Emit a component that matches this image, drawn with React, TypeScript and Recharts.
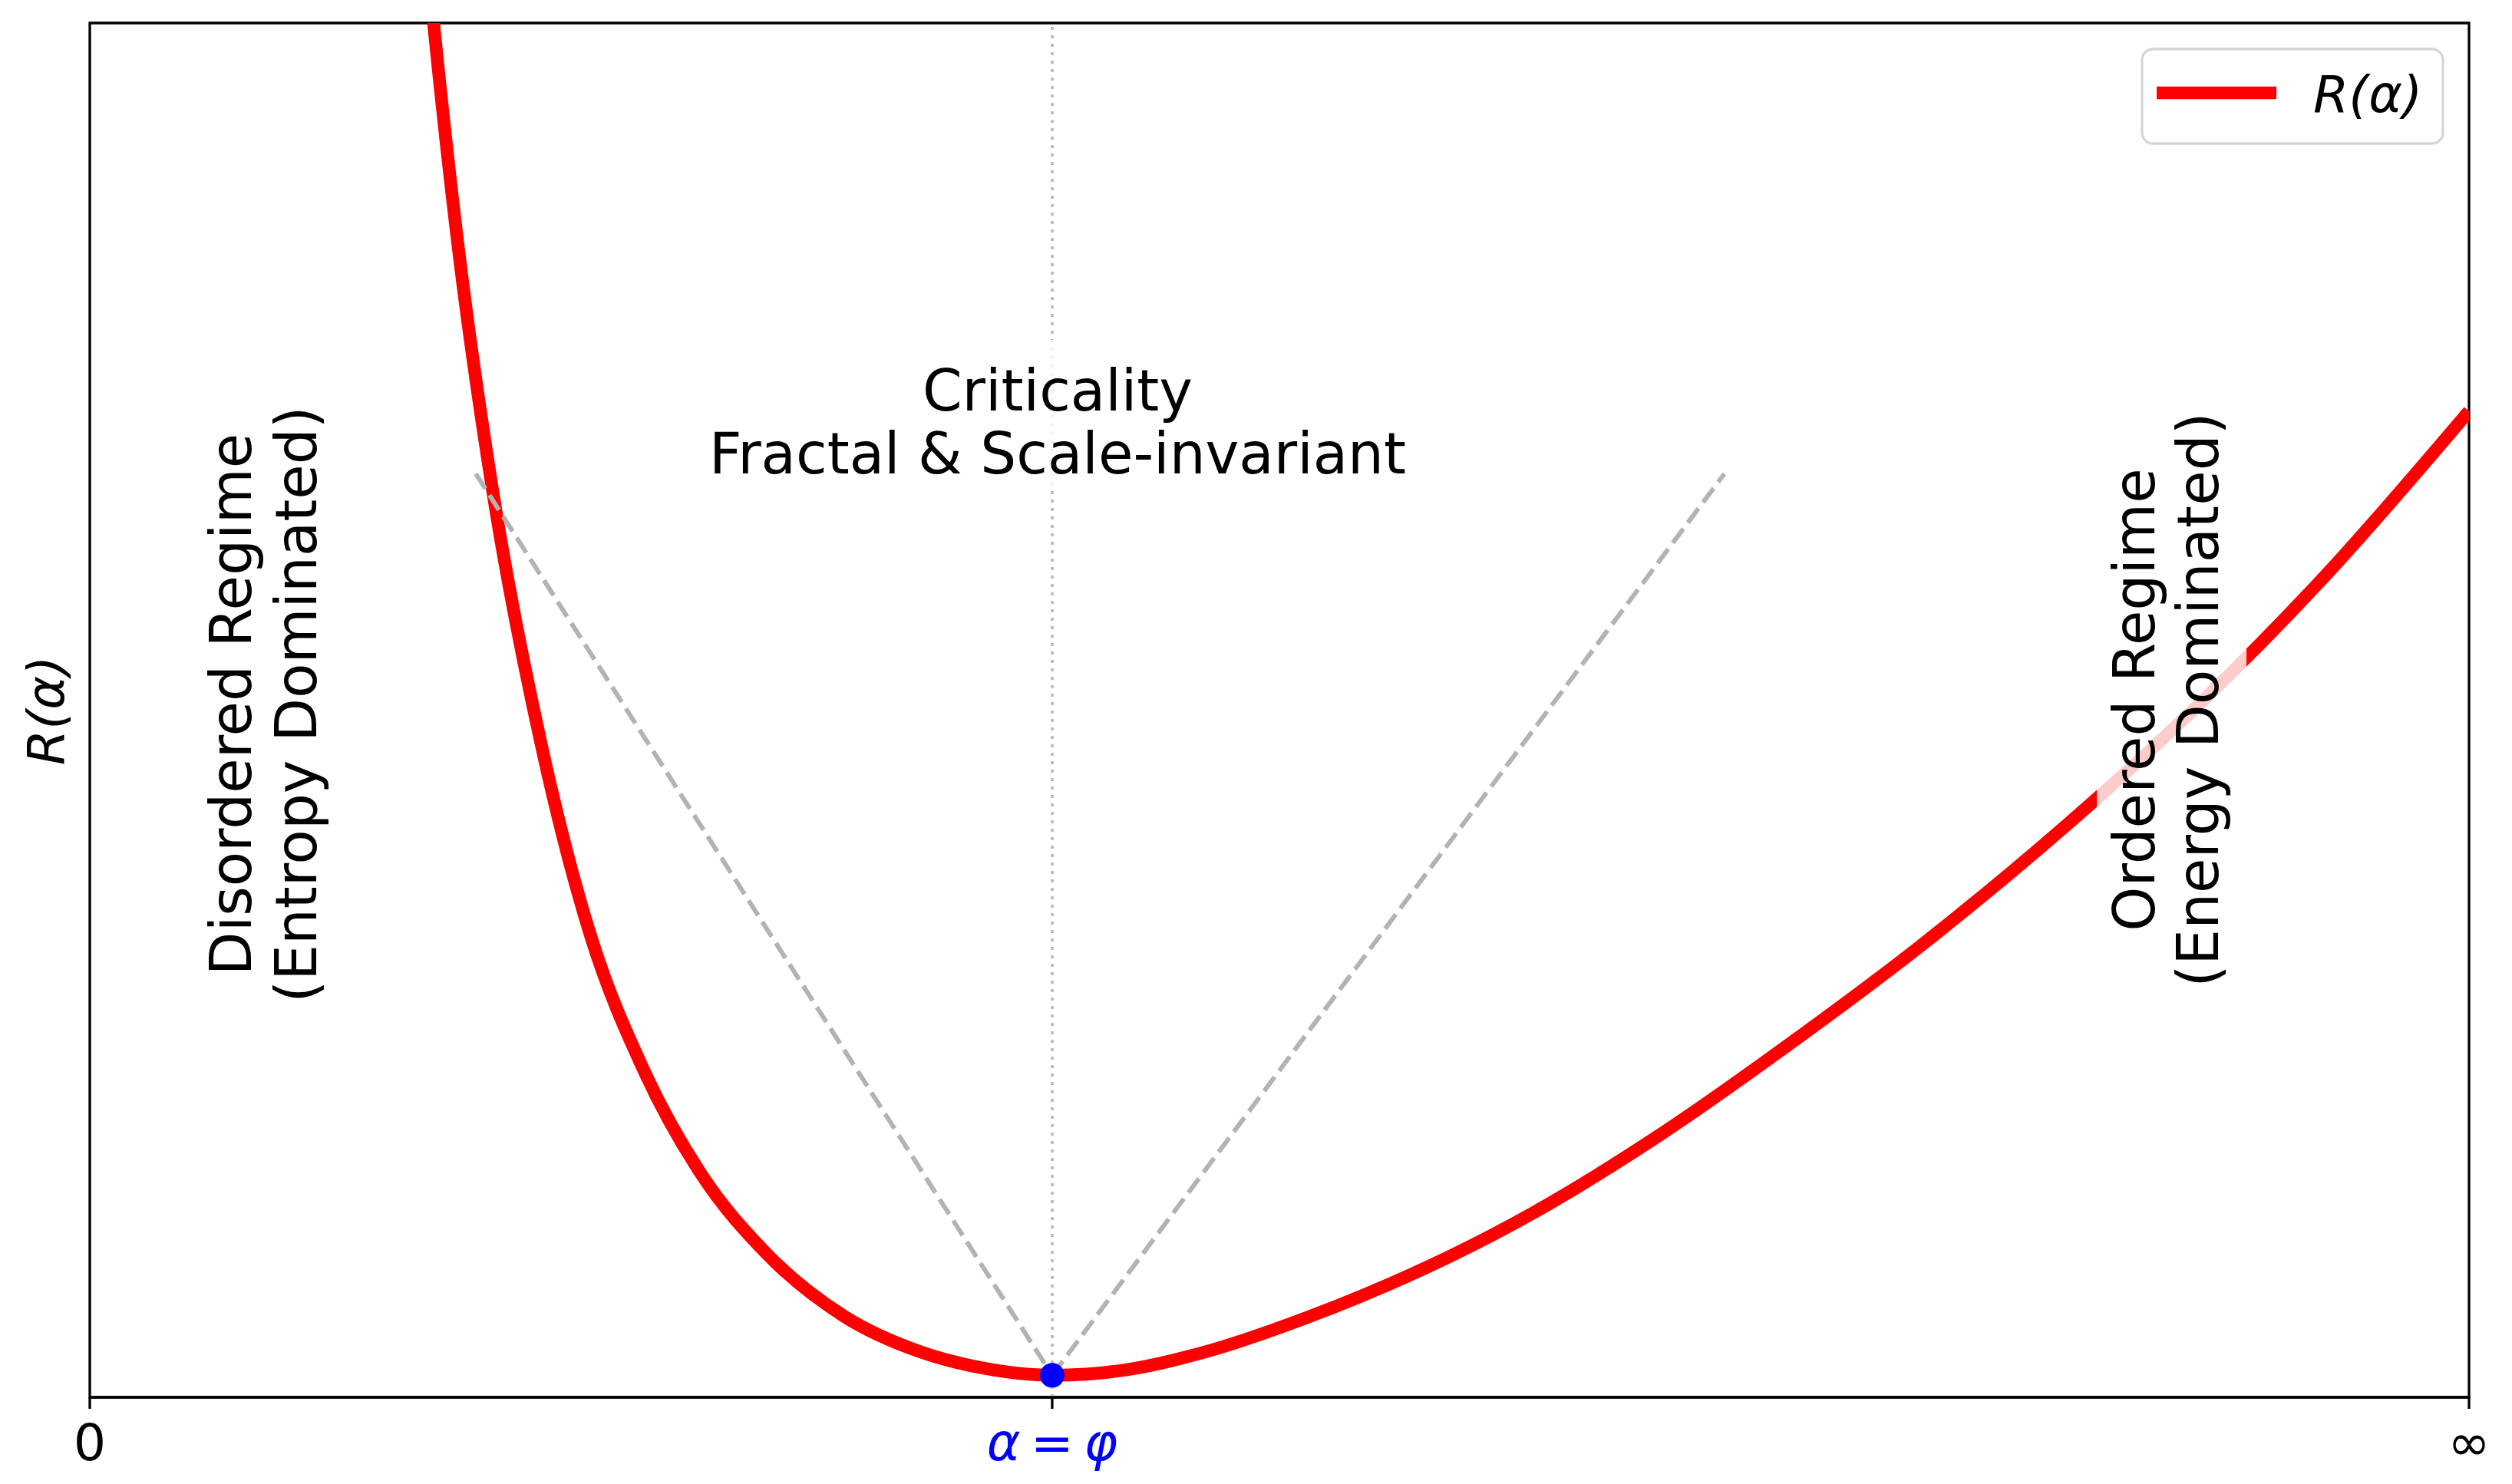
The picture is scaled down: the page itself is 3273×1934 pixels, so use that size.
import { LineChart, Line, XAxis, YAxis, ReferenceLine, ReferenceDot, ReferenceArea } from "recharts";

const W = 3273;
const H = 1934;
const PHI = 1.618;
const FONT = "'DejaVu Sans', sans-serif";

// values (x: alpha from 0 to "infinity" = 4, y: R in arbitrary units, 0..2)
const alphaValues = [0.56, 0.578, 0.619, 0.677, 0.759, 0.839, 0.933, 1.027, 1.139, 1.268, 1.397, 1.505, 1.618, 1.742, 1.871, 2.043, 2.43, 2.645, 2.859, 3.075, 3.333, 3.548, 3.763, 4.0];
const rValues = [2.16, 2.0, 1.677, 1.321, 0.95, 0.68, 0.473, 0.326, 0.208, 0.118, 0.066, 0.042, 0.032, 0.04, 0.065, 0.115, 0.27, 0.385, 0.515, 0.655, 0.84, 1.01, 1.2, 1.435];

const xTicks = [0, PHI, 4];
const xTickLabels = ["0", "α\u2009=\u2009φ", "∞"];

const guideLeft = { a: 0.649, r: 1.344 };
const guideRight = { a: 2.748, r: 1.344 };
const minPoint = { a: PHI, r: 0.032 };

const data = alphaValues.map((a, i) => ({ a, r: rValues[i] }));

const frame = { stroke: "#000", strokeWidth: 3.3 };

function Tick(props: any) {
  const { x, y, payload } = props;
  const i = xTicks.indexOf(payload.value);
  const isPhi = i === 1;
  return (
    <text
      x={x}
      y={y + 65}
      textAnchor="middle"
      fontFamily={FONT}
      fontSize={66.7}
      fontStyle={isPhi ? "italic" : "normal"}
      fill={isPhi ? "#0000ff" : "#000"}
    >
      {xTickLabels[i]}
    </text>
  );
}

function Overlay() {
  return (
    <svg width={W} height={H} style={{ position: "absolute", left: 0, top: 0, pointerEvents: "none" }}>
      {/* y label */}
      <text
        x={83}
        y={926}
        transform="rotate(-90, 83, 926)"
        textAnchor="middle"
        fontFamily={FONT}
        fontSize={66.7}
        fontStyle="italic"
      >
        R(α)
      </text>

      {/* criticality */}
      <rect x={905} y={443} width={950} height={190} fill="#fff" fillOpacity={0.8} />
      <text x={1378} y={535} textAnchor="middle" fontFamily={FONT} fontSize={74}>
        Criticality
      </text>
      <text x={1378} y={617} textAnchor="middle" fontFamily={FONT} fontSize={74}>
        Fractal &amp; Scale-invariant
      </text>

      {/* disordered */}
      <rect x={252} y={505} width={193} height={830} fill="#fff" fillOpacity={0.8} />
      <g transform="rotate(-90, 327, 918)">
        <text x={327} y={918} textAnchor="middle" fontFamily={FONT} fontSize={74}>
          Disordered Regime
        </text>
        <text x={327} y={1003} textAnchor="middle" fontFamily={FONT} fontSize={74}>
          (Entropy Dominated)
        </text>
      </g>

      {/* ordered */}
      <rect x={2732} y={515} width={195} height={795} fill="#fff" fillOpacity={0.8} />
      <g transform="rotate(-90, 2807, 912)">
        <text x={2807} y={912} textAnchor="middle" fontFamily={FONT} fontSize={74}>
          Ordered Regime
        </text>
        <text x={2807} y={995} textAnchor="middle" fontFamily={FONT} fontSize={74}>
          (Energy Dominated)
        </text>
      </g>

      {/* legend */}
      <rect x={2791} y={64} width={392} height={123} rx={14} fill="#fff" fillOpacity={0.8} stroke="#d6d6d6" strokeWidth={3.3} />
      <line x1={2810} y1={121} x2={2966} y2={121} stroke="#ff0000" strokeWidth={16.7} />
      <text x={3014} y={146} fontFamily={FONT} fontSize={66.7} fontStyle="italic">
        R(α)
      </text>
    </svg>
  );
}

export default function App() {
  return (
    <div style={{ position: "absolute", left: 0, top: 0, width: W, height: H, background: "#fff" }}>
      <LineChart width={W} height={H} data={data} margin={{ top: 30, right: 56, left: 117, bottom: 0 }}>
        <XAxis
          dataKey="a"
          type="number"
          domain={[0, 4]}
          ticks={xTicks}
          interval={0}
          tick={<Tick />}
          tickSize={15}
          axisLine={frame}
          tickLine={frame}
          height={113}
          allowDataOverflow
        />
        <YAxis type="number" domain={[0, 2]} allowDataOverflow width={0} tick={false} tickLine={false} axisLine={false} />
        <ReferenceLine x={PHI} stroke="#bfbfbf" strokeWidth={4} strokeDasharray="4 7" />
        <Line
          dataKey="r"
          type="monotone"
          stroke="#ff0000"
          strokeWidth={16.7}
          dot={false}
          activeDot={false}
          isAnimationActive={false}
        />
        <ReferenceLine
          segment={[
            { x: guideLeft.a, y: guideLeft.r },
            { x: minPoint.a, y: minPoint.r },
          ]}
          stroke="#b3b3b3"
          strokeWidth={6}
          strokeDasharray="23 10"
        />
        <ReferenceLine
          segment={[
            { x: minPoint.a, y: minPoint.r },
            { x: guideRight.a, y: guideRight.r },
          ]}
          stroke="#b3b3b3"
          strokeWidth={6}
          strokeDasharray="23 10"
        />
        <ReferenceDot x={minPoint.a} y={minPoint.r} r={16} fill="#0000ff" stroke="none" />
        <ReferenceArea x1={0} x2={4} y1={0} y2={2} fill="none" fillOpacity={0} stroke="#000" strokeWidth={3.3} ifOverflow="visible" />
      </LineChart>
      <Overlay />
    </div>
  );
}
